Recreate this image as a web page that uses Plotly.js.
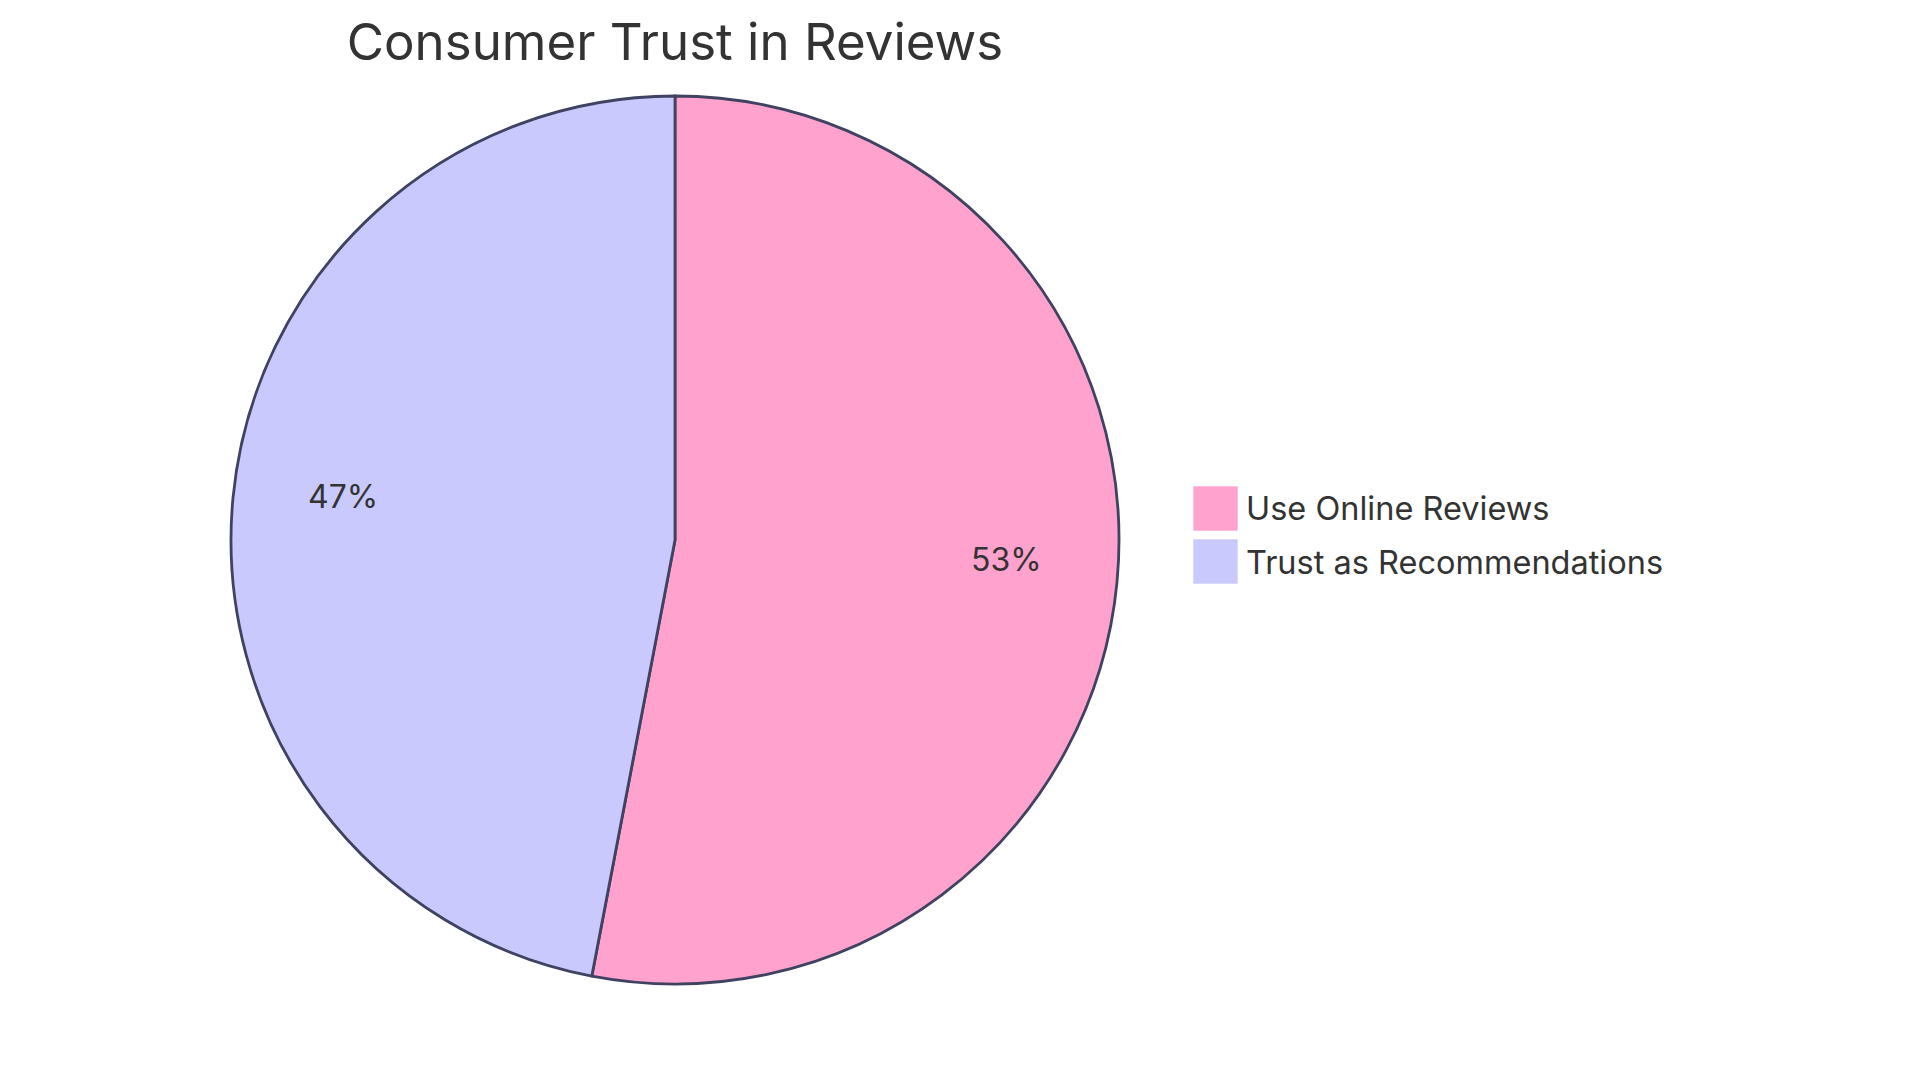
<!DOCTYPE html>
<html>
<head>
<meta charset="utf-8">
<script src="https://cdn.plot.ly/plotly-3.0.1.min.js"></script>
<style>
  html, body { margin: 0; padding: 0; background: #fff; }
  #chart { width: 1920px; height: 1083px; }
</style>
</head>
<body>
<div id="chart"></div>
<script>
const labels = ['Use Online Reviews', 'Trust as Recommendations'];
const values = [53, 47];
const colors = ['#FFA3CE', '#C9C9FD'];

const W = 1920;
const H = 1083;
const cx = 675;
const cy = 540;
const r = 444;

const total = values.reduce((a, b) => a + b, 0);

const trace = {
  type: 'pie',
  labels: labels,
  values: values,
  sort: false,
  direction: 'clockwise',
  rotation: 0,
  textinfo: 'none',
  textposition: 'none',
  marker: {
    colors: colors,
    line: { color: '#3F4260', width: 2.8 },
  },
  domain: {
    x: [(cx - r) / W, (cx + r) / W],
    y: [(H - cy - r) / H, (H - cy + r) / H],
  },
  hoverinfo: 'label+percent',
  showlegend: false,
};

const shapes = [];
const annotations = [];

// percent labels sit at 3/4 of the radius on each slice's middle angle
let start = 0;
values.forEach((v) => {
  const mid = (start + v / 2) / total * 2 * Math.PI;
  start += v;
  const px = cx + 0.75 * r * Math.sin(mid);
  const py = cy - 0.75 * r * Math.cos(mid);
  annotations.push({
    xref: 'paper',
    yref: 'paper',
    x: px / W,
    y: 1 - py / H,
    xanchor: 'center',
    yanchor: 'middle',
    yshift: 12,
    showarrow: false,
    text: Math.round(v / total * 100) + '%',
    font: { family: 'Inter, sans-serif', size: 32, color: '#333333' },
  });
});

// legend drawn by hand so the swatches can be as large as the reference ones
labels.forEach((label, i) => {
  const top = 486 + i * 53;
  shapes.push({
    type: 'rect',
    xref: 'paper',
    yref: 'paper',
    x0: 1193 / W,
    x1: 1238 / W,
    y0: 1 - top / H,
    y1: 1 - (top + 45) / H,
    fillcolor: colors[i],
    line: { width: 1, color: 'rgba(255,255,255,0.6)' },
  });
  annotations.push({
    xref: 'paper',
    yref: 'paper',
    x: 1244 / W,
    y: 1 - (top + 23) / H,
    xanchor: 'left',
    yanchor: 'middle',
    showarrow: false,
    text: label,
    font: { family: 'Inter, sans-serif', size: 32.5, color: '#333333' },
  });
});

const layout = {
  title: {
    text: 'Consumer Trust in Reviews',
    x: cx / W,
    xanchor: 'center',
    y: 1 - 42 / H,
    yanchor: 'middle',
    font: { family: 'Inter, sans-serif', size: 51, color: '#333333' },
  },
  width: W,
  height: H,
  autosize: false,
  margin: { l: 0, r: 0, t: 0, b: 0 },
  paper_bgcolor: '#ffffff',
  plot_bgcolor: '#ffffff',
  showlegend: false,
  shapes: shapes,
  annotations: annotations,
};

const config = {
  displayModeBar: false,
};

Plotly.newPlot('chart', [trace], layout, config);
</script>
</body>
</html>
